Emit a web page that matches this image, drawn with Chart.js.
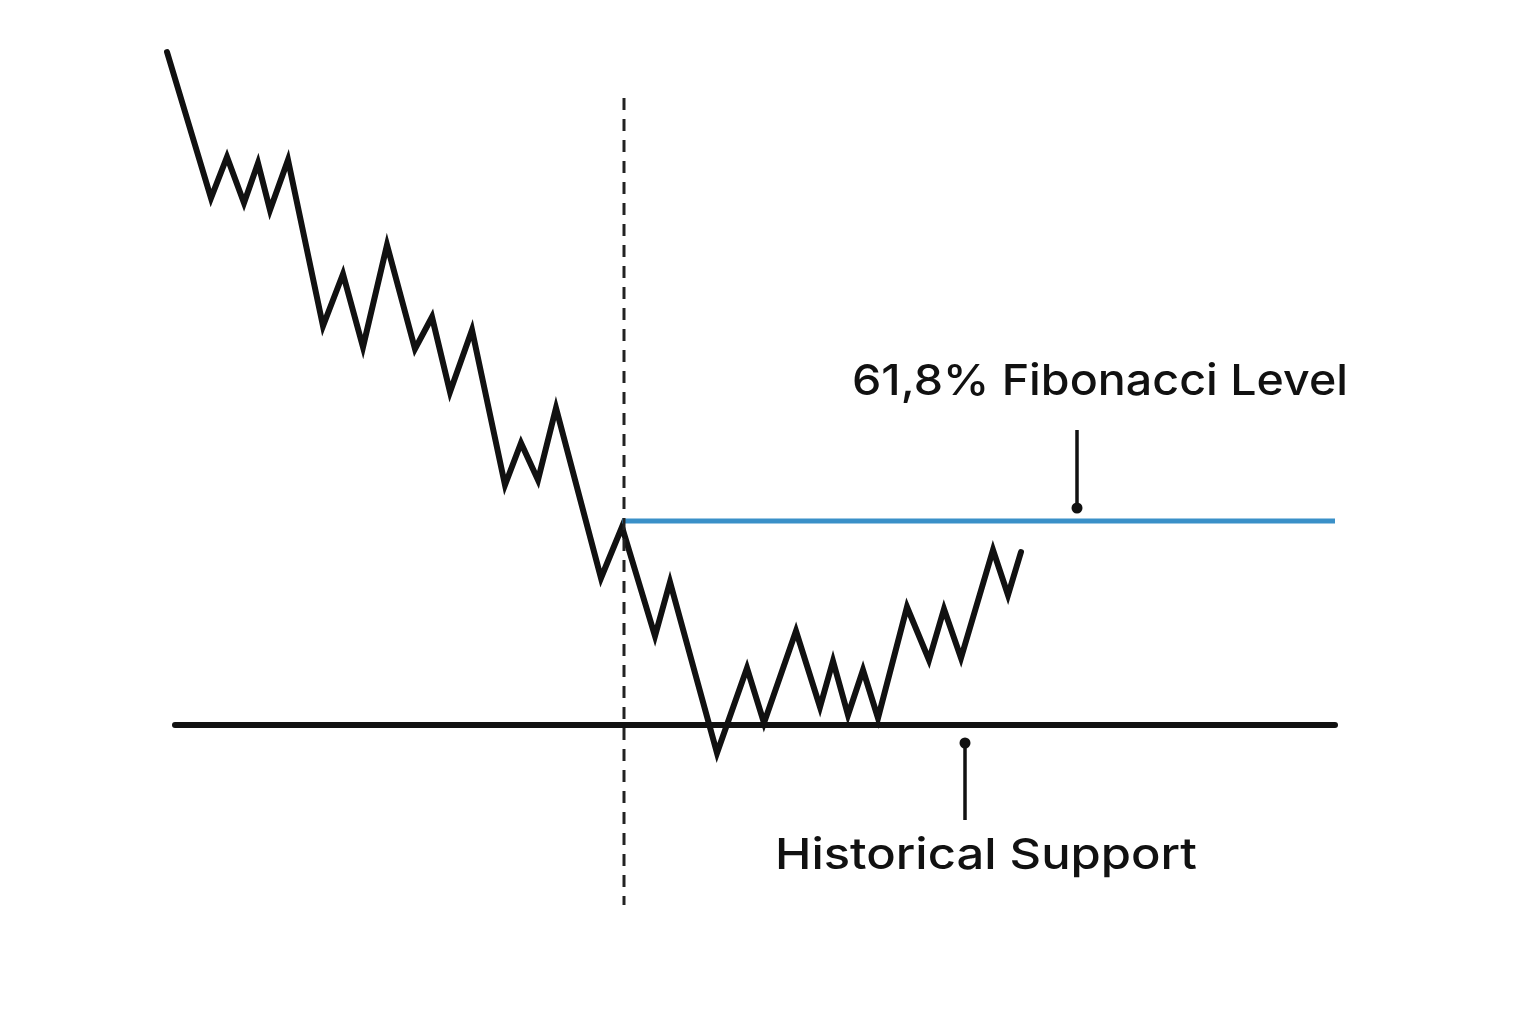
<!DOCTYPE html>
<html><head><meta charset="utf-8">
<script src="https://cdn.jsdelivr.net/npm/chart.js@4"></script>
<style>html,body{margin:0;background:#fff}#w{width:1536px;height:1024px}</style>
</head><body><div id="w"><canvas id="c"></canvas></div>
<script>
// time index (x) and price (y)
const priceX = [167,211,227,244,258,270,288,323,343,363,387,415,432,450,472,505,521,538,556,601,622,655,670,717,747,764,796,820,833,848,863,878,907,929,944,961,993,1008,1021];
const priceY = [972,826,867,821,861,814,864,698,750,677,779,675,707,632,694,539,581,544,616,446,497,388,442,271,356,301,393,317,363,309,354,306,417,364,415,366,474,429,472];
const supportLevel = 299, supportStart = 175, supportEnd = 1335;
const fibLevel = 503, fibStart = 622, fibEnd = 1335;
const markerX = 624, markerTop = 926, markerBottom = 119;
const fibLabel = "61,8% Fibonacci Level";
const supportLabel = "Historical Support";

const price = priceX.map((x,i)=>({x,y:priceY[i]}));
const labels = {
  id:'labels',
  afterDatasetsDraw(ch){
    const c=ch.ctx,xs=ch.scales.x,ys=ch.scales.y;
    c.save();
    c.fillStyle='#111';c.strokeStyle='#111';c.lineWidth=3.5;
    c.font='500 43px Inter, sans-serif';c.textAlign='center';c.textBaseline='middle';
    const fit=(t,x,y,w)=>{c.save();const m=c.measureText(t).width;c.translate(x,y);c.scale(w/m,1);c.fillText(t,0,0);c.restore();};
    fit(fibLabel,xs.getPixelForValue(1100),ys.getPixelForValue(642),496);
    fit(supportLabel,xs.getPixelForValue(986),ys.getPixelForValue(168),422);
    // connectors
    c.beginPath();c.moveTo(xs.getPixelForValue(1077),ys.getPixelForValue(594));c.lineTo(xs.getPixelForValue(1077),ys.getPixelForValue(516));c.stroke();
    c.beginPath();c.arc(xs.getPixelForValue(1077),ys.getPixelForValue(516),5.5,0,7);c.fill();
    c.beginPath();c.moveTo(xs.getPixelForValue(965),ys.getPixelForValue(281));c.lineTo(xs.getPixelForValue(965),ys.getPixelForValue(204));c.stroke();
    c.beginPath();c.arc(xs.getPixelForValue(965),ys.getPixelForValue(281),5.5,0,7);c.fill();
    c.restore();
  }
};
new Chart(document.getElementById('c'),{
  type:'line',
  data:{datasets:[
    {data:[{x:markerX,y:markerTop},{x:markerX,y:markerBottom}],borderColor:'#222',borderWidth:3,borderDash:[12,9],pointRadius:0},
    {data:[{x:supportStart,y:supportLevel},{x:supportEnd,y:supportLevel}],borderColor:'#111',borderWidth:6,borderCapStyle:'round',pointRadius:0},
    {data:[{x:fibStart,y:fibLevel},{x:fibEnd,y:fibLevel}],borderColor:'#3a90c8',borderWidth:5,pointRadius:0},
    {data:price,borderColor:'#111',borderWidth:6,borderJoinStyle:'miter',borderCapStyle:'round',pointRadius:0,tension:0}
  ]},
  options:{responsive:true,maintainAspectRatio:false,animation:false,
    layout:{padding:0},
    plugins:{legend:{display:false},tooltip:{enabled:false}},
    scales:{x:{type:'linear',min:0,max:1536,display:false},y:{min:0,max:1024,display:false}}},
  plugins:[labels]
});
</script></body></html>
